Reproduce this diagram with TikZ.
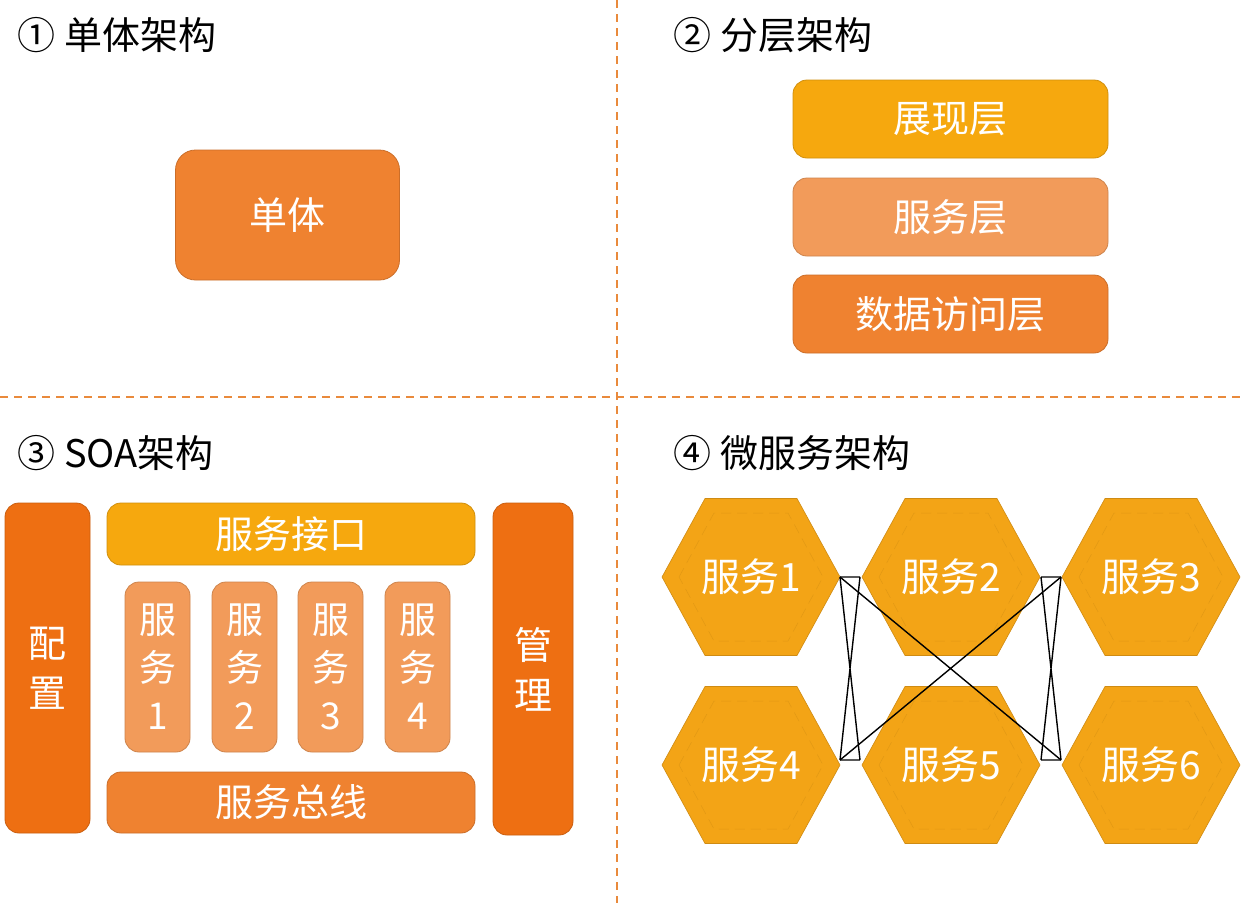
\documentclass[tikz,border=0pt]{standalone}
\usepackage{fontspec}
\setmainfont{Noto Sans CJK SC}
\begin{document}
\begin{tikzpicture}[x=1pt,y=-1pt,
  box/.style={draw=#1!85!black,line width=0.8pt,fill=#1,rounded corners=14pt,text=white,font=\fontsize{38}{42}\selectfont,inner sep=0pt},
  title/.style={anchor=west,font=\fontsize{38}{42}\selectfont,text=black},
  hexs/.style={fill=hexc,draw=hexc!85!black,line width=0.6pt},
  lnk/.style={draw=black,line width=1.4pt}]
\definecolor{dorange}{HTML}{EE6F12}
\definecolor{morange}{HTML}{EF8230}
\definecolor{yorange}{HTML}{F6A80E}
\definecolor{lorange}{HTML}{F29B5A}
\definecolor{hexc}{HTML}{F3A416}
\definecolor{dashc}{HTML}{E98A3C}
\useasboundingbox (0,0) rectangle (1242,903);
\fill[white] (0,0) rectangle (1242,903);
\draw[dashc,line width=1.8pt,dash pattern=on 8pt off 6pt] (617,0) -- (617,903);
\draw[dashc,line width=1.8pt,dash pattern=on 8pt off 6pt] (0,397) -- (1242,397);
\node[title] (t1) at (14,35) {① 单体架构};
\node[title] (t2) at (670,35) {② 分层架构};
\node[title] (t3) at (14,453) {③ SOA架构};
\node[title] (t4) at (670,453) {④ 微服务架构};
% 1
\node[box=morange,minimum width=224pt,minimum height=130pt,rounded corners=20pt] (mono) at (287.5,215) {单体};
% 2
\node[box=yorange,minimum width=315pt,minimum height=78pt] (l1) at (950.5,119) {展现层};
\node[box=lorange,minimum width=315pt,minimum height=78pt] (l2) at (950.5,217) {服务层};
\node[box=morange,minimum width=315pt,minimum height=78pt] (l3) at (950.5,314) {数据访问层};
% 3
\node[box=dorange,minimum width=85pt,minimum height=330pt,align=center,font=\fontsize{38}{50}\selectfont] (cfg) at (47.5,668) {配\\置};
\node[box=dorange,minimum width=80pt,minimum height=332pt,align=center,font=\fontsize{38}{50}\selectfont] (mgr) at (533,669) {管\\理};
\node[box=yorange,minimum width=368pt,minimum height=62pt] (intf) at (291,534) {服务接口};
\node[box=morange,minimum width=368pt,minimum height=61pt] (bus) at (291,802.5) {服务总线};
\foreach \i/\x in {1/157.5,2/244.5,3/330.5,4/417.5}
  \node[box=lorange,minimum width=65pt,minimum height=170pt,align=center,font=\fontsize{37}{48}\selectfont] (s\i) at (\x,667) {服\\务\\\i};
% 4
\foreach \i/\x/\y in {1/751/577,2/951/577,3/1151/577,4/751/765,5/951/765,6/1151/765}{
  \path[hexs] (\x-89,\y) -- (\x-46,\y-78.5) -- (\x+46,\y-78.5) -- (\x+89,\y) -- (\x+46,\y+78.5) -- (\x-46,\y+78.5) -- cycle;
  \draw[hexc!80!black,line width=0.5pt,dash pattern=on 10pt off 6pt,opacity=0.35] (\x-72,\y) -- (\x-37,\y-64) -- (\x+37,\y-64) -- (\x+72,\y) -- (\x+37,\y+64) -- (\x-37,\y+64) -- cycle;
  \node[text=white,font=\fontsize{39}{42}\selectfont] (h\i) at (\x,\y) {服务\i};
}
\coordinate (a1) at (840,577); \coordinate (a2) at (860,577);
\coordinate (a3) at (840,760); \coordinate (a4) at (860,760);
\coordinate (b1) at (1041,577); \coordinate (b2) at (1061,577);
\coordinate (b3) at (1041,760); \coordinate (b4) at (1061,760);
\draw[lnk] (a1) -- (a2) (a3) -- (a4) (a1) -- (a4) (a2) -- (a3);
\draw[lnk] (b1) -- (b2) (b3) -- (b4) (b1) -- (b4) (b2) -- (b3);
\draw[lnk] (a1) -- (b4) (a3) -- (b2);
\end{tikzpicture}
\end{document}
